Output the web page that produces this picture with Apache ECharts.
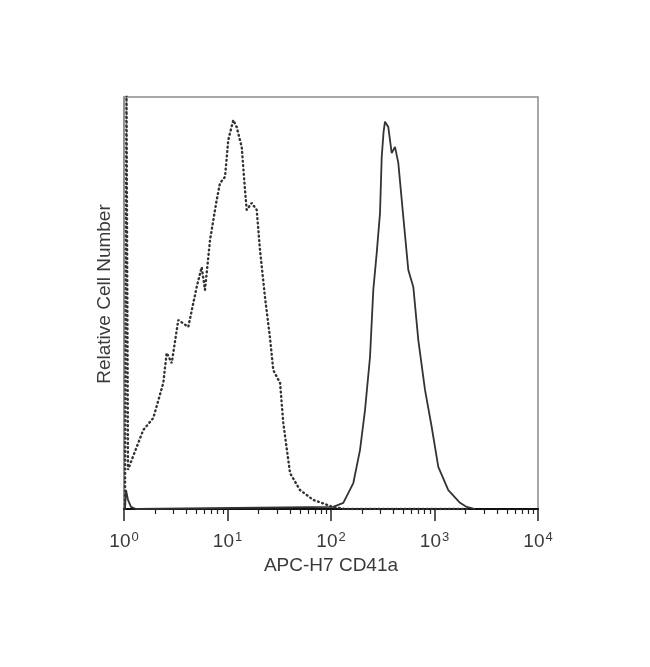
<!DOCTYPE html>
<html>
<head>
<meta charset="utf-8">
<script src="https://cdn.jsdelivr.net/npm/echarts@6/dist/echarts.min.js"></script>
<style>html,body{margin:0;padding:0;background:#fff}#c{width:650px;height:667px}</style>
</head>
<body>
<div id="c"></div>
<script>
// Isotype control (dotted) histogram: [fluorescence, relative count]
var controlX = [1.022,1.057,1.093,1.187,1.536,1.919,2.398,2.586,2.890,3.346,4.181,5.04,5.63,6.06,6.78,7.86,8.46,9.46,10.18,11.38,12.27,13.72,14.76,15.33,17.13,19.15,20.6,23.0,25.7,27.7,32.2,34.6,40.2,50.2,67.5,104.5,136.6,2061];
var controlY = [0,102,9.5,11.9,19.2,22.1,30.6,37.9,35.4,45.9,44.2,53.9,58.7,53.2,65.3,75.0,79.1,80.6,89.6,94.4,92.7,87.9,77.4,72.6,74.3,72.6,62.9,51.5,41.7,33.7,30.6,20.9,8.7,4.6,2.2,0.5,0,0];
// CD41a stained (solid) histogram
var stainedX = [1.022,1.045,1.093,1.168,1.306,105.2,131.5,164.3,190.6,213.1,238.2,256.3,276.4,297.5,309.0,322.0,332.4,357.8,385.9,415.3,446.9,499.5,558.4,624.2,697.6,809.6,939.6,1088,1359,1764,2047,2462];
var stainedY = [0,4.6,2.2,0.5,0,0.5,1.5,6.3,14.3,24.0,36.9,53.2,62.1,71.8,85.4,91.5,94.0,92.7,86.4,87.9,84.0,70.9,58.0,53.9,41.0,28.9,19.9,10.2,4.6,1.5,0.5,0];
var majorTicks = [1,10,100,1000,10000];
var minorTicks = [2,3,4,5,6,7,8,9,20,30,40,50,60,70,80,90,200,300,400,500,600,700,800,900,2000,3000,4000,5000,6000,7000,8000,9000];
var xTitle = 'APC-H7 CD41a';
var yTitle = 'Relative Cell Number';

function zip(a, b) { return a.map(function (v, i) { return [v, b[i]]; }); }
var chart = echarts.init(document.getElementById('c'));
var font = 'Liberation Sans, Arial, sans-serif';
chart.setOption({
  animation: false,
  backgroundColor: '#fff',
  grid: { left: 124, right: 112, top: 97, bottom: 158, show: true, borderColor: '#8a8a8a', borderWidth: 1.5, backgroundColor: 'transparent' },
  xAxis: [{
    type: 'log', logBase: 10, min: 1, max: 10000, position: 'bottom',
    name: xTitle, nameLocation: 'middle', nameGap: 45,
    nameTextStyle: { fontFamily: font, fontSize: 19, color: '#3a3a3a' },
    axisLine: { show: true, onZero: false, lineStyle: { color: '#111', width: 2.2 } },
    axisTick: { show: true, length: 12, customValues: majorTicks, lineStyle: { color: '#222', width: 1.5 } },
    axisLabel: {
      show: true, margin: 22, customValues: majorTicks,
      formatter: function (v) { var e = Math.round(Math.log10(v)); return '{b|10}{s|' + e + '}'; },
      rich: {
        b: { fontFamily: font, fontSize: 19, color: '#3a3a3a', lineHeight: 22 },
        s: { fontFamily: font, fontSize: 13, color: '#3a3a3a', lineHeight: 12, verticalAlign: 'top', padding: [0, 0, 6, 1] }
      }
    },
    splitLine: { show: false }, minorSplitLine: { show: false }
  }, {
    type: 'log', logBase: 10, min: 1, max: 10000, position: 'bottom',
    axisLine: { show: false },
    axisTick: { show: true, length: 5, customValues: minorTicks, lineStyle: { color: '#222', width: 1.2 } },
    axisLabel: { show: false },
    splitLine: { show: false }
  }],
  yAxis: {
    type: 'value', min: 0, max: 100,
    name: yTitle, nameLocation: 'middle', nameGap: 10, nameRotate: 90,
    nameTextStyle: { fontFamily: font, fontSize: 19, color: '#3a3a3a', padding: [0, 0, 0, 18] },
    axisLine: { show: true, lineStyle: { color: '#8a8a8a', width: 1.5 } },
    axisTick: { show: false }, axisLabel: { show: false }, splitLine: { show: false }
  },
  series: [{
    type: 'line', data: zip(controlX, controlY), showSymbol: false, symbol: 'none', smooth: false, clip: true,
    lineStyle: { color: '#333', width: 2.4, type: [0.8, 3.6], cap: 'round' }
  }, {
    type: 'line', data: zip(stainedX, stainedY), showSymbol: false, symbol: 'none', smooth: false, clip: true,
    lineStyle: { color: '#333', width: 1.8 }
  }]
});
</script>
</body>
</html>
